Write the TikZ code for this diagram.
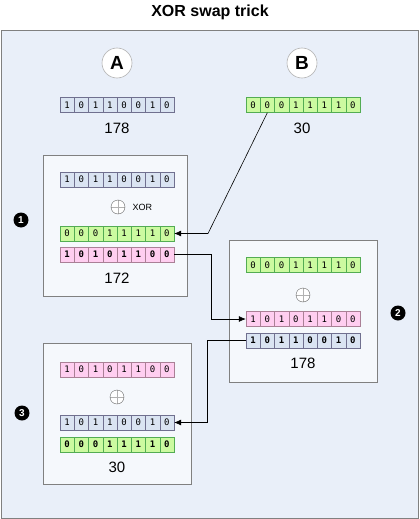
\documentclass[tikz,border=0pt]{standalone}
\usepackage{fontspec}
\setmainfont{Liberation Sans}
\newfontfamily\bitfont{DejaVu Sans Mono}
\usepackage{tikz}
\usetikzlibrary{calc,positioning,arrows.meta}

\definecolor{panelbg}{RGB}{233,239,249}
\definecolor{boxbg}{RGB}{245,248,252}
\definecolor{blubit}{RGB}{218,228,242}
\definecolor{grnbit}{RGB}{204,250,160}
\definecolor{pnkbit}{RGB}{255,206,240}

\tikzset{
  cell/.style={draw, minimum width=14.25pt, minimum height=15pt, inner sep=0pt,
    font=\bitfont\fontsize{9}{9}\selectfont},
  blu/.style={cell, fill=blubit, draw=blue!12!gray},
  grn/.style={cell, fill=grnbit, draw=green!35!gray},
  pnk/.style={cell, fill=pnkbit, draw=magenta!25!gray},
  res/.style={font=\bitfont\bfseries\fontsize{9}{9}\selectfont},
  stepbox/.style={draw=gray, fill=boxbg, semithick},
  badge/.style={circle, fill=black, text=white, inner sep=0pt, minimum size=15pt,
    font=\bfseries\fontsize{10}{10}\selectfont},
  varcirc/.style={circle, draw=gray!60, semithick, fill=white, inner sep=0pt, minimum size=30pt,
    font=\bfseries\fontsize{19}{19}\selectfont},
  xorsym/.style={circle, draw=gray!80!black, fill=white, inner sep=0pt, minimum size=14pt,
    path picture={\draw[gray!60] (path picture bounding box.north) -- (path picture bounding box.south)
      (path picture bounding box.west) -- (path picture bounding box.east);}},
  val/.style={font=\fontsize{15}{15}\selectfont},
  >={Latex[length=7pt,width=6pt]}
}

% name, style, centre of first cell, bits
\newcommand{\bitrow}[4]{%
  \foreach \b [count=\i] in {#4}
    \node[#2] (#1-\i) at ($(#3)+({(\i-1)*14.25},0)$) {\b};
}

\begin{document}
\begin{tikzpicture}[x=1pt, y=-1pt]
\useasboundingbox (0,0) rectangle (420,519);

%Title and panel
\node[font=\bfseries\fontsize{16}{16}\selectfont] (title) at (210,12) {XOR swap trick};
\draw[gray, semithick, fill=panelbg] (1,30) rectangle (418,518);

%Variables
\node[varcirc] (A) at (117,63) {A};
\node[varcirc] (B) at (302,63) {B};
\bitrow{a0}{blu}{67.1,105}{1,0,1,1,0,0,1,0}
\bitrow{b0}{grn}{253.1,105}{0,0,0,1,1,1,1,0}
\node[val] (va0) at (117,128) {178};
\node[val] (vb0) at (302,128) {30};

%Step 1
\draw[stepbox] (43,155) rectangle (187,296);
\bitrow{a1}{blu}{67.1,179.5}{1,0,1,1,0,0,1,0}
\node[xorsym] (x1) at (118,207) {};
\node[font=\fontsize{9}{9}\selectfont, right=4pt of x1] (xl) {XOR};
\bitrow{g1}{grn}{67.1,233.5}{0,0,0,1,1,1,1,0}
\bitrow{p1}{pnk,res}{67.1,254.5}{1,0,1,0,1,1,0,0}
\node[val] (v1) at (117,278) {172};
\node[badge] (n1) at (21,220) {1};

%Step 2
\draw[stepbox] (229,240) rectangle (377,382);
\bitrow{g2}{grn}{253.1,265}{0,0,0,1,1,1,1,0}
\node[xorsym] (x2) at (303,295) {};
\bitrow{p2}{pnk}{253.1,319}{1,0,1,0,1,1,0,0}
\bitrow{b2}{blu,res}{253.1,340.5}{1,0,1,1,0,0,1,0}
\node[val] (v2) at (303,363) {178};
\node[badge] (n2) at (398,313) {2};

%Step 3
\draw[stepbox] (43,343) rectangle (191,484);
\bitrow{p3}{pnk}{67.1,369.5}{1,0,1,0,1,1,0,0}
\node[xorsym] (x3) at (117,397) {};
\bitrow{b3}{blu}{67.1,422.5}{1,0,1,1,0,0,1,0}
\bitrow{g3}{grn,res}{67.1,444.5}{0,0,0,1,1,1,1,0}
\node[val] (v3) at (117,467) {30};
\node[badge] (n3) at (22,413) {3};

%Connectors
\coordinate (k1) at (208,233.5);
\coordinate (k2) at (211,319);
\coordinate (k3) at (207,422.5);
\draw[->, semithick] (b0-2.south) -- (k1) -- (g1-8.east);
\draw[->, semithick] (p1-8.east) -| (k2) -- (p2-1.west);
\draw[->, semithick] (b2-1.west) -| (k3) -- (b3-8.east);

\end{tikzpicture}
\end{document}
